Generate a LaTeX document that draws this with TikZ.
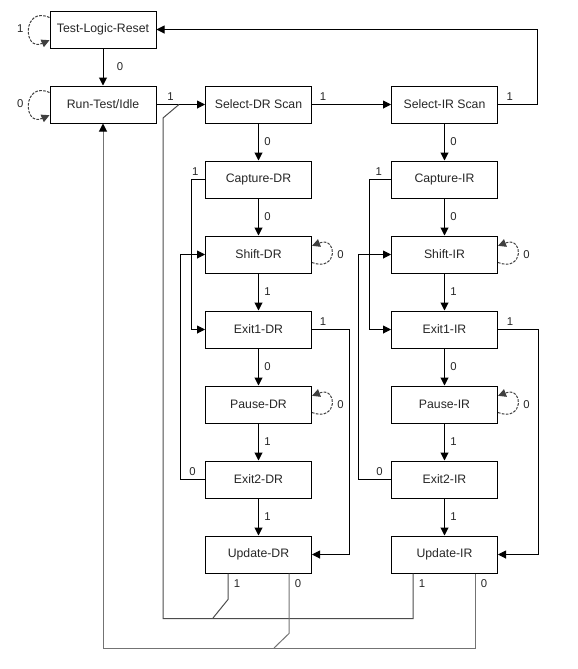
\documentclass[tikz,border=0pt]{standalone}
\usepackage{fontspec}
\setmainfont{Liberation Sans}
\usetikzlibrary{arrows.meta,calc}

\begin{document}
\begin{tikzpicture}[x=0.75pt,y=-0.75pt,
    state/.style={draw, line width=0.75pt, minimum width=79.5pt, minimum height=27.75pt,
      inner sep=0pt, text=black!85, font=\fontsize{9.2}{11}\selectfont},
    arr/.style={line width=0.75pt, -{Triangle[length=6pt,width=6pt]}},
    selfloop/.style={arr, black!75, dash pattern=on 2pt off 1pt},
    lbl/.style={text=black!85, font=\fontsize{8.5}{10}\selectfont, inner sep=4pt},
    bus/.style={line width=0.75pt, #1},
    bus/.default=black!70]
    \useasboundingbox (0,0) rectangle (578,669);

    \node[state] (tlr) at (103,29.5) {Test-Logic-Reset};
    \node[state] (rti) at (103,104.5) {Run-Test/Idle};
    \node[state] (seldr) at (258.5,104.5) {Select-DR Scan};
    \node[state] (selir) at (444.5,104.5) {Select-IR Scan};

    \node[state] (capdr) at (258.5,179.5) {Capture-DR};
    \node[state] (shdr) at (258.5,254.5) {Shift-DR};
    \node[state] (ex1dr) at (258.5,329.5) {Exit1-DR};
    \node[state] (padr) at (258.5,404.5) {Pause-DR};
    \node[state] (ex2dr) at (258.5,479.5) {Exit2-DR};
    \node[state] (updr) at (258.5,554.5) {Update-DR};

    \node[state] (capir) at (444.5,179.5) {Capture-IR};
    \node[state] (shir) at (444.5,254.5) {Shift-IR};
    \node[state] (ex1ir) at (444.5,329.5) {Exit1-IR};
    \node[state] (pair) at (444.5,404.5) {Pause-IR};
    \node[state] (ex2ir) at (444.5,479.5) {Exit2-IR};
    \node[state] (upir) at (444.5,554.5) {Update-IR};

    \coordinate (jsel) at (179,104.5);
    \coordinate (kink) at (163,118);

    \draw[selfloop] ([yshift=9pt]tlr.west) .. controls +(-27,-12) and +(-27,12) .. ([yshift=-8pt]tlr.west)
      node[lbl,left,pos=0.5] {1};
    \draw[selfloop] ([yshift=9pt]rti.west) .. controls +(-27,-12) and +(-27,12) .. ([yshift=-8pt]rti.west)
      node[lbl,left,pos=0.5] {0};
    \draw[arr] (tlr) -- node[lbl,right,xshift=6pt] {0} (rti);
    \draw[arr] (rti) -- node[lbl,above=-1.5pt,pos=0.29] {1} (seldr);
    \draw[arr] (seldr) -- node[lbl,above=-1.5pt,pos=0.14] {1} (selir);
    \draw[arr] (selir.east) -- node[lbl,above=-1.5pt,pos=0.3] {1} ++(39,0) |- (tlr);

    \draw[arr] (seldr) -- node[lbl,right] {0} (capdr);
    \draw[arr] (capdr) -- node[lbl,right] {0} (shdr);
    \draw[arr] (shdr) -- node[lbl,right] {1} (ex1dr);
    \draw[arr] (ex1dr) -- node[lbl,right] {0} (padr);
    \draw[arr] (padr) -- node[lbl,right] {1} (ex2dr);
    \draw[arr] (ex2dr) -- node[lbl,right] {1} (updr);
    \draw[arr] (capdr.west) -- node[lbl,above=-1.5pt,pos=0.7] {1} ++(-14,0) |- (ex1dr);
    \draw[arr] (ex2dr.west) -- node[lbl,above=-1.5pt] {0} ++(-25,0) |- (shdr);
    \draw[arr] (ex1dr.east) -- node[lbl,above=-1.5pt,pos=0.3] {1} ++(37,0) |- (updr);
    \draw[selfloop] ([yshift=-6pt]shdr.east) .. controls +(26,10) and +(26,-10) .. ([yshift=6.5pt]shdr.east)
      node[lbl,right,pos=0.5] {0};
    \draw[selfloop] ([yshift=-6pt]padr.east) .. controls +(26,10) and +(26,-10) .. ([yshift=6.5pt]padr.east)
      node[lbl,right,pos=0.5] {0};

    \draw[arr] (selir) -- node[lbl,right] {0} (capir);
    \draw[arr] (capir) -- node[lbl,right] {0} (shir);
    \draw[arr] (shir) -- node[lbl,right] {1} (ex1ir);
    \draw[arr] (ex1ir) -- node[lbl,right] {0} (pair);
    \draw[arr] (pair) -- node[lbl,right] {1} (ex2ir);
    \draw[arr] (ex2ir) -- node[lbl,right] {1} (upir);
    \draw[arr] (capir.west) -- node[lbl,above=-1.5pt,pos=0.55] {1} ++(-22,0) |- (ex1ir);
    \draw[arr] (ex2ir.west) -- node[lbl,above=-1.5pt,pos=0.35] {0} ++(-33,0) |- (shir);
    \draw[arr] (ex1ir.east) -- node[lbl,above=-1.5pt,pos=0.3] {1} ++(40,0) |- (upir);
    \draw[selfloop] ([yshift=-6pt]shir.east) .. controls +(26,10) and +(26,-10) .. ([yshift=6.5pt]shir.east)
      node[lbl,right,pos=0.5] {0};
    \draw[selfloop] ([yshift=-6pt]pair.east) .. controls +(26,10) and +(26,-10) .. ([yshift=6.5pt]pair.east)
      node[lbl,right,pos=0.5] {0};

    \draw[bus] (upir.south west) ++(22,0) -- node[lbl,right,pos=0.22] {1} ++(0,45) -| (kink) -- (jsel);
    \draw[bus] (updr.south west) ++(23,0) -- node[lbl,right,pos=0.38] {1} ++(0,26) -- (213,618);
    \draw[bus=black!55,-{Triangle[length=6pt,width=6pt,black]}] (upir.south west) ++(84,0)
      -- node[lbl,right,pos=0.13] {0} ++(0,75) -| (rti);
    \draw[bus=black!55] (updr.south west) ++(84,0) -- node[lbl,right,pos=0.17] {0} ++(0,60) -- (274,648);
\end{tikzpicture}
\end{document}
